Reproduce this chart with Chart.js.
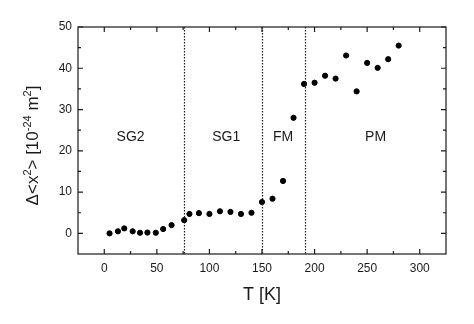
<!DOCTYPE html>
<html>
<head>
<meta charset="utf-8">
<script src="https://cdn.jsdelivr.net/npm/chart.js@4.4.0/dist/chart.umd.min.js"></script>
<style>
  html, body { margin: 0; padding: 0; background: #fff; }
  #wrap { width: 474px; height: 324px; }
</style>
</head>
<body>
<div id="wrap"><canvas id="chart"></canvas></div>
<script>
// temperature (K) and mean square displacement difference (10^-24 m^2)
var temps  = [5, 13, 19, 27, 34, 41, 49, 56, 64, 76, 81, 90, 100, 110, 120, 130, 140, 150,
              160, 170, 180, 190, 200, 210, 220, 230, 240, 250, 260, 270, 280];
var msd    = [0, 0.5, 1.2, 0.5, 0.15, 0.2, 0.15, 1.05, 2.0, 3.2, 4.7, 4.9, 4.7, 5.35, 5.2, 4.7, 5.0, 7.6,
              8.4, 12.7, 28.0, 36.2, 36.5, 38.2, 37.5, 43.1, 34.4, 41.3, 40.1, 42.2, 45.5];

// phase boundaries and phase names
var boundaries  = [76, 150, 191];
var phases      = ['SG2', 'SG1', 'FM', 'PM'];
var phaseX      = [25, 116, 170, 258];
var phaseY      = 23.3;

// axis ticks
var xMajor = [0, 50, 100, 150, 200, 250, 300];
var xMinor = [25, 75, 125, 175, 225, 275];
var yMajor = [0, 10, 20, 30, 40, 50];
var yMinor = [5, 15, 25, 35, 45];

var FONT = "'Liberation Sans', Arial, sans-serif";
var INK = '#1a1a1a';

var points = temps.map(function (t, i) { return { x: t, y: msd[i] }; });

// frame, inward ticks, boundaries, phase labels and y title
var framePlugin = {
  id: 'frame',
  afterDraw: function (chart) {
    var ctx = chart.ctx;
    var a = chart.chartArea;
    var xs = chart.scales.x, ys = chart.scales.y;
    ctx.save();

    // dotted phase boundaries
    ctx.strokeStyle = INK;
    ctx.lineWidth = 1.2;
    ctx.setLineDash([1.5, 1.5]);
    boundaries.forEach(function (b) {
      var px = Math.round(xs.getPixelForValue(b)) + 0.5;
      ctx.beginPath();
      ctx.moveTo(px, a.top);
      ctx.lineTo(px, a.bottom);
      ctx.stroke();
    });
    ctx.setLineDash([]);

    // frame
    ctx.lineWidth = 1.2;
    ctx.strokeRect(a.left, a.top, a.right - a.left, a.bottom - a.top);

    // inward ticks on all four sides
    function xTick(v, len) {
      var px = xs.getPixelForValue(v);
      ctx.beginPath();
      ctx.moveTo(px, a.bottom); ctx.lineTo(px, a.bottom - len);
      ctx.moveTo(px, a.top); ctx.lineTo(px, a.top + len);
      ctx.stroke();
    }
    function yTick(v, len) {
      var py = ys.getPixelForValue(v);
      ctx.beginPath();
      ctx.moveTo(a.left, py); ctx.lineTo(a.left + len, py);
      ctx.moveTo(a.right, py); ctx.lineTo(a.right - len, py);
      ctx.stroke();
    }
    xMajor.forEach(function (v) { xTick(v, 5); });
    xMinor.forEach(function (v) { xTick(v, 3); });
    yMajor.forEach(function (v) { yTick(v, 5); });
    yMinor.forEach(function (v) { yTick(v, 3); });

    // phase labels
    ctx.fillStyle = INK;
    ctx.font = '14px ' + FONT;
    ctx.textAlign = 'center';
    ctx.textBaseline = 'middle';
    phases.forEach(function (p, i) {
      ctx.fillText(p, xs.getPixelForValue(phaseX[i]), ys.getPixelForValue(phaseY));
    });

    // y axis title with superscripts
    var parts = [
      ['\u0394<x', false], ['2', true], ['> [10', false], ['-24', true],
      [' m', false], ['2', true], [']', false]
    ];
    var big = '17px ' + FONT, small = '11px ' + FONT;
    var total = 0;
    parts.forEach(function (p) {
      ctx.font = p[1] ? small : big;
      total += ctx.measureText(p[0]).width;
    });
    ctx.translate(32, (a.top + a.bottom) / 2 + 5);
    ctx.rotate(-Math.PI / 2);
    ctx.textAlign = 'left';
    ctx.textBaseline = 'alphabetic';
    var cx = -total / 2;
    parts.forEach(function (p) {
      ctx.font = p[1] ? small : big;
      ctx.fillText(p[0], cx, p[1] ? -1 : 6);
      cx += ctx.measureText(p[0]).width;
    });
    ctx.restore();
  }
};

var mychart = document.getElementById('chart').getContext('2d');

var newChart = new Chart(mychart, {
  type: 'scatter',
  data: {
    datasets: [{
      data: points,
      backgroundColor: '#000',
      borderColor: '#000',
      pointRadius: 2.6,
      pointHoverRadius: 2.6
    }]
  },
  options: {
    responsive: true,
    maintainAspectRatio: false,
    animation: false,
    layout: { padding: { top: 27, right: 28, bottom: 0, left: 0 } },
    plugins: { legend: { display: false }, tooltip: { enabled: false } },
    scales: {
      x: {
        type: 'linear',
        min: -25,
        max: 325,
        grid: { display: false, drawTicks: false },
        border: { display: false },
        afterBuildTicks: function (s) { s.ticks = xMajor.map(function (v) { return { value: v }; }); },
        afterFit: function (s) { s.height = 70; },
        ticks: {
          color: INK,
          padding: 7,
          maxRotation: 0,
          font: { family: FONT, size: 12 }
        },
        title: {
          display: true,
          text: 'T [K]',
          color: INK,
          font: { family: FONT, size: 18 },
          padding: { top: 0, bottom: 18 }
        }
      },
      y: {
        type: 'linear',
        min: -5,
        max: 50,
        grid: { display: false, drawTicks: false },
        border: { display: false },
        afterBuildTicks: function (s) { s.ticks = yMajor.map(function (v) { return { value: v }; }); },
        afterFit: function (s) { s.width = 78; },
        ticks: {
          color: INK,
          padding: 6,
          font: { family: FONT, size: 12 }
        }
      }
    }
  },
  plugins: [framePlugin]
});
</script>
</body>
</html>
